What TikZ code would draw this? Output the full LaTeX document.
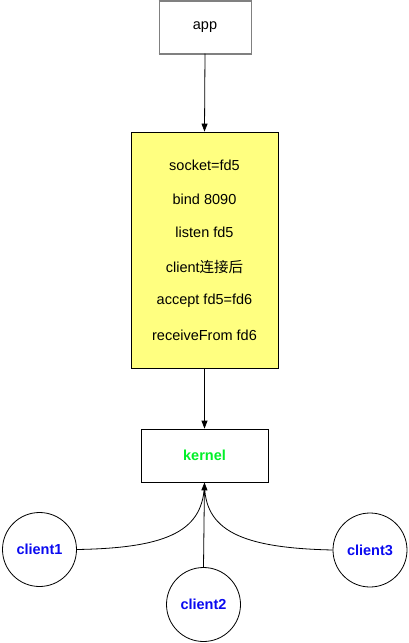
\documentclass[tikz,border=0pt]{standalone}
\usepackage{fontspec}
\setmainfont{Liberation Sans}
\newfontfamily\cjk{Noto Sans CJK SC}
\usetikzlibrary{arrows.meta}
\definecolor{boxyellow}{RGB}{255,255,128}
\definecolor{kgreen}{RGB}{0,240,40}
\definecolor{cblue}{RGB}{10,10,240}
\definecolor{appgray}{RGB}{128,128,128}
\begin{document}
\begin{tikzpicture}[x=1pt,y=-1pt,
  every node/.style={font=\fontsize{14.5}{17}\selectfont},
  link/.style={line width=0.8pt,-{Triangle[length=8pt,width=6pt]}},
  curvelink/.style={line width=0.8pt},
  client/.style={circle,draw,line width=0.8pt,minimum size=74pt,inner sep=0pt,text=cblue,font=\fontsize{14.5}{17}\selectfont\bfseries}]
\useasboundingbox (0,0) rectangle (409,643);
% app
\node[draw=appgray,line width=1pt,minimum width=92pt,minimum height=52pt,inner sep=0pt] (app) at (205,27) {app};
\draw[appgray,line width=2pt] (app.north west) -- (app.north east);
\draw[appgray,line width=2pt] (app.south west) -- (app.south east);
% yellow box
\node[draw,fill=boxyellow,line width=0.8pt,minimum width=147pt,minimum height=236pt,inner sep=0pt] (proc) at (204.5,250) {};
\node (l1) at (204.5,165) {socket=fd5};
\node (l2) at (204.5,199) {bind 8090};
\node (l3) at (204.5,232) {listen fd5};
\node (l4) at (204.5,267) {client{\cjk 连接后}};
\node (l5) at (204.5,301) {accept fd5=fd6};
\node (l6) at (204.5,335) {receiveFrom fd6};
% kernel
\node[draw,line width=0.8pt,minimum width=127pt,minimum height=53pt,inner sep=0pt,text=kgreen,font=\fontsize{14.5}{17}\selectfont\bfseries] (kernel) at (204.5,455.5) {kernel};
% clients
\node[client] (c1) at (39.5,549.5) {client1};
\node[client] (c2) at (203.5,604.5) {client2};
\node[client] (c3) at (370,550) {client3};
% connectors
\draw[link] (app.south) -- (proc.north);
\draw[link] (proc.south) -- (kernel.north);
\draw[link] (c2.north) -- (kernel.south);
\draw[curvelink] (c1.east) .. controls (170,548) and (204,530) .. (kernel.south);
\draw[curvelink] (c3.west) .. controls (240,548) and (204,530) .. (kernel.south);
\end{tikzpicture}
\end{document}
